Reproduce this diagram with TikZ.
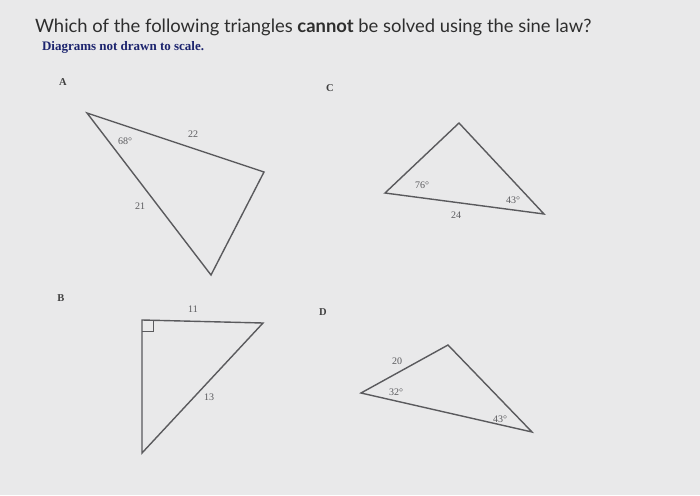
\documentclass[tikz,border=0pt]{standalone}
\usepackage{fontspec}
\setmainfont{Liberation Serif}
\newfontfamily\titlefont{Lato}
\usetikzlibrary{positioning}
\definecolor{pagebg}{RGB}{233,233,234}
\definecolor{linegray}{RGB}{90,90,93}
\definecolor{subnavy}{RGB}{28,36,110}

\begin{document}
\begin{tikzpicture}[x=1pt,
y=-1pt,
every node/.style={
inner sep=0pt,
outer sep=0pt,
},
side/.style={
draw=linegray,
line width=1.4pt,
line join=miter,
},
lbl/.style={
font=\fontsize{10}{10}\selectfont,
text=linegray,
},
letter/.style={
font=\fontsize{10.5}{10.5}\selectfont\bfseries,
text=black!75,
}]

%page
\fill[pagebg] (0,0) rectangle (700,495);
\useasboundingbox (0,0) rectangle (700,495);

%question
\node[anchor=base west,text=black!82,font=\titlefont\fontsize{18.4}{18.4}\selectfont] (question) at (35,33) {Which of the following triangles \textbf{cannot} be solved using the sine law?};
\node[anchor=base west,text=subnavy,font=\fontsize{13}{13}\selectfont\bfseries] (note) at (42,51) {Diagrams not drawn to scale.};

%letters
\node[letter] (la) at (63,82) {A};
\node[letter] (lb) at (61,298) {B};
\node[letter] (lc) at (330,88) {C};
\node[letter] (ld) at (323,312) {D};

%Triangle A
\coordinate (a1) at (87,113);
\coordinate (a2) at (264,172);
\coordinate (a3) at (211,275);
\draw[side] (a1) -- (a2) -- (a3) -- cycle;
\node[lbl] (a68) at (125,141) {68\textdegree};
\node[lbl] (a22) at (193,134) {22};
\node[lbl] (a21) at (140,206) {21};

%Triangle B
\coordinate (b1) at (142,320);
\coordinate (b2) at (263,323);
\coordinate (b3) at (142,453);
\draw[side] (b1) -- (b2) -- (b3) -- cycle;
\draw[draw=linegray,line width=1pt] ([xshift=11pt]b1) |- ([yshift=-11pt]b1);
\node[lbl] (b11) at (193,309) {11};
\node[lbl] (b13) at (209,397) {13};

%Triangle C
\coordinate (c1) at (459,123);
\coordinate (c2) at (544,214);
\coordinate (c3) at (385,193);
\draw[side] (c1) -- (c2) -- (c3) -- cycle;
\node[lbl] (c76) at (422,185) {76\textdegree};
\node[lbl] (c43) at (513,200) {43\textdegree};
\node[lbl] (c24) at (456,215) {24};

%Triangle D
\coordinate (d1) at (448,345);
\coordinate (d2) at (532,432);
\coordinate (d3) at (361,393);
\draw[side] (d1) -- (d2) -- (d3) -- cycle;
\node[lbl] (d20) at (397,361) {20};
\node[lbl] (d32) at (396,392) {32\textdegree};
\node[lbl] (d43) at (500,419) {43\textdegree};
\end{tikzpicture}
\end{document}
